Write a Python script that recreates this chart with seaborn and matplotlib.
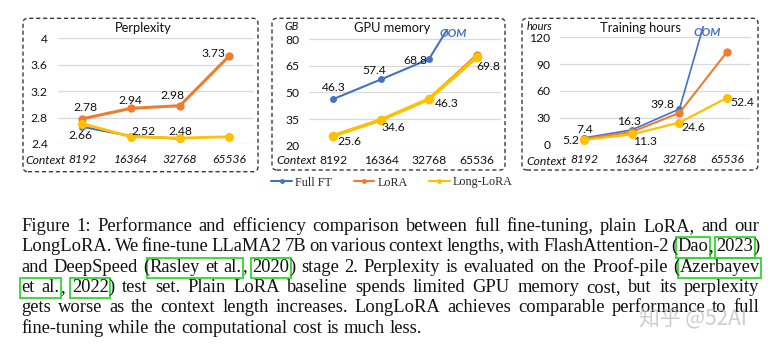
import numpy as np
import pandas as pd
import matplotlib
matplotlib.use("Agg")
import matplotlib.pyplot as plt
import matplotlib.transforms as mtransforms
from matplotlib.patches import FancyBboxPatch, Rectangle
from matplotlib.lines import Line2D
import seaborn as sns

# ---------------- data ----------------
contexts = ["8192", "16364", "32768", "65536"]
series_names = ["Full FT", "LoRA", "Long-LoRA"]

ppl_full_ft = [2.66, 2.52, 2.48, np.nan]
ppl_lora = [2.78, 2.94, 2.98, 3.73]
ppl_longlora = [2.71, 2.51, 2.49, 2.51]

gpu_full_ft = [46.3, 57.4, 68.8, 112.4]     # last value: OOM, line runs off the top
gpu_lora = [25.6, 34.6, 46.3, 71.0]
gpu_longlora = [25.6, 34.6, 46.3, 69.8]

hrs_full_ft = [7.4, 16.3, 39.8, 225.0]      # last value: OOM, line runs off the top
hrs_lora = [6.3, 14.0, 35.5, 104.0]
hrs_longlora = [5.2, 11.3, 24.6, 52.4]

ppl_ticks = [2.4, 2.8, 3.2, 3.6, 4.0]
ppl_tick_labels = ["2.4", "2.8", "3.2", "3.6", "4"]
gpu_ticks = [20, 35, 50, 65, 80]
hrs_ticks = [0, 30, 60, 90, 120]

titles = ["Perplexity", "GPU memory", "Training hours"]
unit_labels = ["", "GB", "hours"]

caption_lines = [
    "Figure 1: Performance and efficiency comparison between full fine-tuning, plain LoRA, and our",
    "LongLoRA. We fine-tune LLaMA2 7B on various context lengths, with FlashAttention-2 ({Dao}, {2023})",
    "and DeepSpeed ({Rasley et al.}, {2020}) stage 2. Perplexity is evaluated on the Proof-pile ({Azerbayev}",
    "{et al.}, {2022}) test set.  Plain LoRA baseline spends limited GPU memory cost, but its perplexity",
    "gets worse as the context length increases. LongLoRA achieves comparable performance to full",
    "fine-tuning while the computational cost is much less.",
]
watermark = "知乎 @52AI"

# ---------------- style ----------------
W, H = 773, 347
sns.set_theme(style="white")
plt.rcParams["font.family"] = ["Lato", "DejaVu Sans"]

colors = {"Full FT": "#4472C4", "LoRA": "#ED7D31", "Long-LoRA": "#FFC000"}

fig = plt.figure(figsize=(W / 100, H / 100), dpi=100)


def fx(x):
    return x / W


def fy(y):
    return 1 - y / H


def make_axes(x0, x1, ytop, ybot):
    return fig.add_axes([fx(x0), fy(ybot), (x1 - x0) / W, (ybot - ytop) / H])


# axes geometry (pixel coords from top-left)
ax1 = make_axes(57.5, 253.5, 38.3, 144.0)
ax2 = make_axes(309.4, 500.6, 29.0, 145.7)
ax3 = make_axes(560.2, 751.0, 26.0, 144.5)

panels = [
    (ax1, [ppl_full_ft, ppl_lora, ppl_longlora], (2.4, 4.0), ppl_ticks, ppl_tick_labels,
     {"Full FT": (1.5, 5), "LoRA": (2.2, 6), "Long-LoRA": (2.0, 6.5)}, True),
    (ax2, [gpu_full_ft, gpu_lora, gpu_longlora], (20, 85.8), gpu_ticks, [str(t) for t in gpu_ticks],
     {"Full FT": (1.5, 5), "LoRA": (2.0, 6), "Long-LoRA": (2.5, 7)}, False),
    (ax3, [hrs_full_ft, hrs_lora, hrs_longlora], (0, 132.8), hrs_ticks, [str(t) for t in hrs_ticks],
     {"Full FT": (1.2, 5), "LoRA": (1.5, 6), "Long-LoRA": (1.6, 6.5)}, True),
]

positions = np.arange(len(contexts))

for ax, series, ylim, yt, ytl, styles, italic in panels:
    df = pd.DataFrame({
        "pos": np.tile(positions, len(series_names)),
        "value": np.concatenate([np.asarray(s, float) for s in series]),
        "series": np.repeat(series_names, len(contexts)),
    })
    for name in series_names:
        lw, ms = styles[name]
        sub = df[df["series"] == name].dropna()
        sns.lineplot(data=sub, x="pos", y="value", ax=ax, color=colors[name],
                     linewidth=lw, marker="o", markersize=ms, markeredgewidth=0,
                     legend=False, sort=False, estimator=None)
    ax.set_xlim(-0.5, 3.5)
    ax.set_ylim(*ylim)
    ax.set_yticks(yt)
    ax.set_yticklabels(ytl, fontsize=8.7, color="#111111")
    ax.set_xticks(positions)
    ax.set_xticklabels(contexts, fontsize=8.7, color="#111111",
                       style="italic" if italic else "normal")
    ax.tick_params(axis="y", length=0, pad=7)
    ax.tick_params(axis="x", length=0, pad=7)
    ax.set_xlabel("")
    ax.set_ylabel("")
    ax.yaxis.grid(True, color="#d9d9d9", linewidth=0.9)
    ax.xaxis.grid(False)
    ax.set_axisbelow(True)
    for sp in ax.spines.values():
        sp.set_visible(False)
    ax.patch.set_alpha(0)

# ---------------- data labels ----------------
label_kw = dict(textcoords="offset pixels", ha="center", va="center",
                fontsize=8.7, color="#111111", annotation_clip=False)


def add_labels(ax, values, offsets):
    for i, (dx, dy) in offsets.items():
        v = values[i]
        ax.annotate(f"{v:g}", xy=(positions[i], v), xytext=(dx, dy), **label_kw)


add_labels(ax1, ppl_full_ft, {0: (-2, -9), 1: (12, 5), 2: (0, 7)})
add_labels(ax1, ppl_lora, {0: (3, 11), 1: (-1, 8), 2: (-8, 10), 3: (-16, 3)})

add_labels(ax2, gpu_full_ft, {0: (0, 12), 1: (-7, 9), 2: (-13, -1.5)})
add_labels(ax2, gpu_longlora, {0: (16, -6), 1: (12, -8), 2: (18, -4), 3: (12, -9)})

add_labels(ax3, hrs_full_ft, {0: (1, 8), 1: (-3, 8.5), 2: (-17, 4)})
add_labels(ax3, hrs_longlora, {0: (-13, -1), 1: (13, -7.5), 2: (14, -5), 3: (15, -4.5)})

# ---------------- titles, units, OOM, Context ----------------
title_pos = [(143, 28), (392, 28), (640, 27.7)]
for t, (x, y) in zip(titles, title_pos):
    fig.text(fx(x), fy(y), t, ha="center", va="center", fontsize=9.3, color="#111111")

fig.text(fx(292), fy(26), unit_labels[1], ha="center", va="center", fontsize=8,
         style="italic", color="#111111")
fig.text(fx(540), fy(26), unit_labels[2], ha="center", va="center", fontsize=8,
         style="italic", color="#111111")

for x, y in [(453.7, 33.7), (707, 32.5)]:
    fig.text(fx(x), fy(y), "OOM", ha="center", va="center", fontsize=8.3,
             style="italic", weight="bold", color="#4472C4")

for x, y in [(45, 160), (296, 160), (546, 161.5)]:
    fig.text(fx(x), fy(y), "Context", ha="center", va="center", fontsize=8.7,
             style="italic", color="#111111")

# ---------------- dashed rounded boxes ----------------
ident = mtransforms.IdentityTransform()
for x0, x1, y0, y1 in [(23, 258, 18.3, 171.7), (272, 505, 18.3, 170), (522, 758, 18.3, 170)]:
    box = FancyBboxPatch((x0, H - y1), x1 - x0, y1 - y0,
                         boxstyle="round,pad=0,rounding_size=5",
                         transform=ident, fill=False, edgecolor="#3a3a3a",
                         linewidth=1.0, linestyle=(0, (3, 2)))
    fig.add_artist(box)

# ---------------- legend ----------------
handles = [Line2D([], [], color=colors[n], lw=1.5, marker="o", markersize=3.5,
                  markeredgewidth=0) for n in series_names]
fig.legend(handles, series_names, loc="center", bbox_to_anchor=(fx(392), fy(182.5)),
           ncol=3, frameon=False, prop={"family": "Liberation Serif", "size": 8.7},
           handlelength=1.7, handletextpad=0.25, columnspacing=1.8, borderpad=0,
           borderaxespad=0)

# ---------------- caption (justified) ----------------
renderer = fig.canvas.get_renderer()
cap_font = dict(family="Liberation Serif", color="#111111")


def text_width(s, fs):
    t = fig.text(0, 0, s, fontsize=fs, **cap_font)
    w = t.get_window_extent(renderer).width
    t.remove()
    return w


fs0 = 12.0
target_last = 400.0
fs = fs0 * target_last / text_width(caption_lines[-1].replace("{", "").replace("}", ""), fs0)
space_w = text_width("x x", fs) - text_width("xx", fs)

box_counter = [0]


def parse(line):
    words, cur, seg, box = [], [], "", None

    def flush():
        nonlocal seg
        if seg:
            cur.append((seg, box))
        seg = ""

    for ch in line:
        if ch == "{":
            flush()
            box_counter[0] += 1
            box = box_counter[0]
        elif ch == "}":
            flush()
            box = None
        elif ch == " ":
            flush()
            if cur:
                words.append(list(cur))
                cur.clear()
        else:
            seg += ch
    flush()
    if cur:
        words.append(list(cur))
    return words


left_x, right_x = 21.0, 759.5
base0, line_gap = 230.7, 20.4
box_extents = {}
for li, line in enumerate(caption_lines):
    words = parse(line)
    widths = [[text_width(s, fs) for s, _ in w] for w in words]
    word_w = [sum(w) for w in widths]
    if li < len(caption_lines) - 1:
        gap = (right_x - left_x - sum(word_w)) / (len(words) - 1)
    else:
        gap = space_w
    baseline = base0 + li * line_gap
    x = left_x
    for w, ws in zip(words, widths):
        for (s, b), sw in zip(w, ws):
            fig.text(fx(x), fy(baseline), s, fontsize=fs, ha="left", va="baseline", **cap_font)
            if b is not None:
                e = box_extents.setdefault(b, [x, x + sw, baseline])
                e[0] = min(e[0], x)
                e[1] = max(e[1], x + sw)
            x += sw
        x += gap

for b, (x0, x1, baseline) in box_extents.items():
    y_top = baseline - 13.7
    y_bot = baseline + 6.4
    fig.add_artist(Rectangle((fx(x0 - 1.5), fy(y_bot)), (x1 - x0 + 3) / W, (y_bot - y_top) / H,
                             transform=fig.transFigure, fill=False,
                             edgecolor="#2ed82e", linewidth=1.3))

# ---------------- watermark (overlaps the caption, as in the source image) ----------------
fig.text(fx(693), fy(318), watermark, ha="center", va="center", fontsize=15,
         family=["Noto Sans CJK SC", "DejaVu Sans"], color="#bdbdbd", alpha=0.75)

fig.savefig("out.png", dpi=100, facecolor="white")
